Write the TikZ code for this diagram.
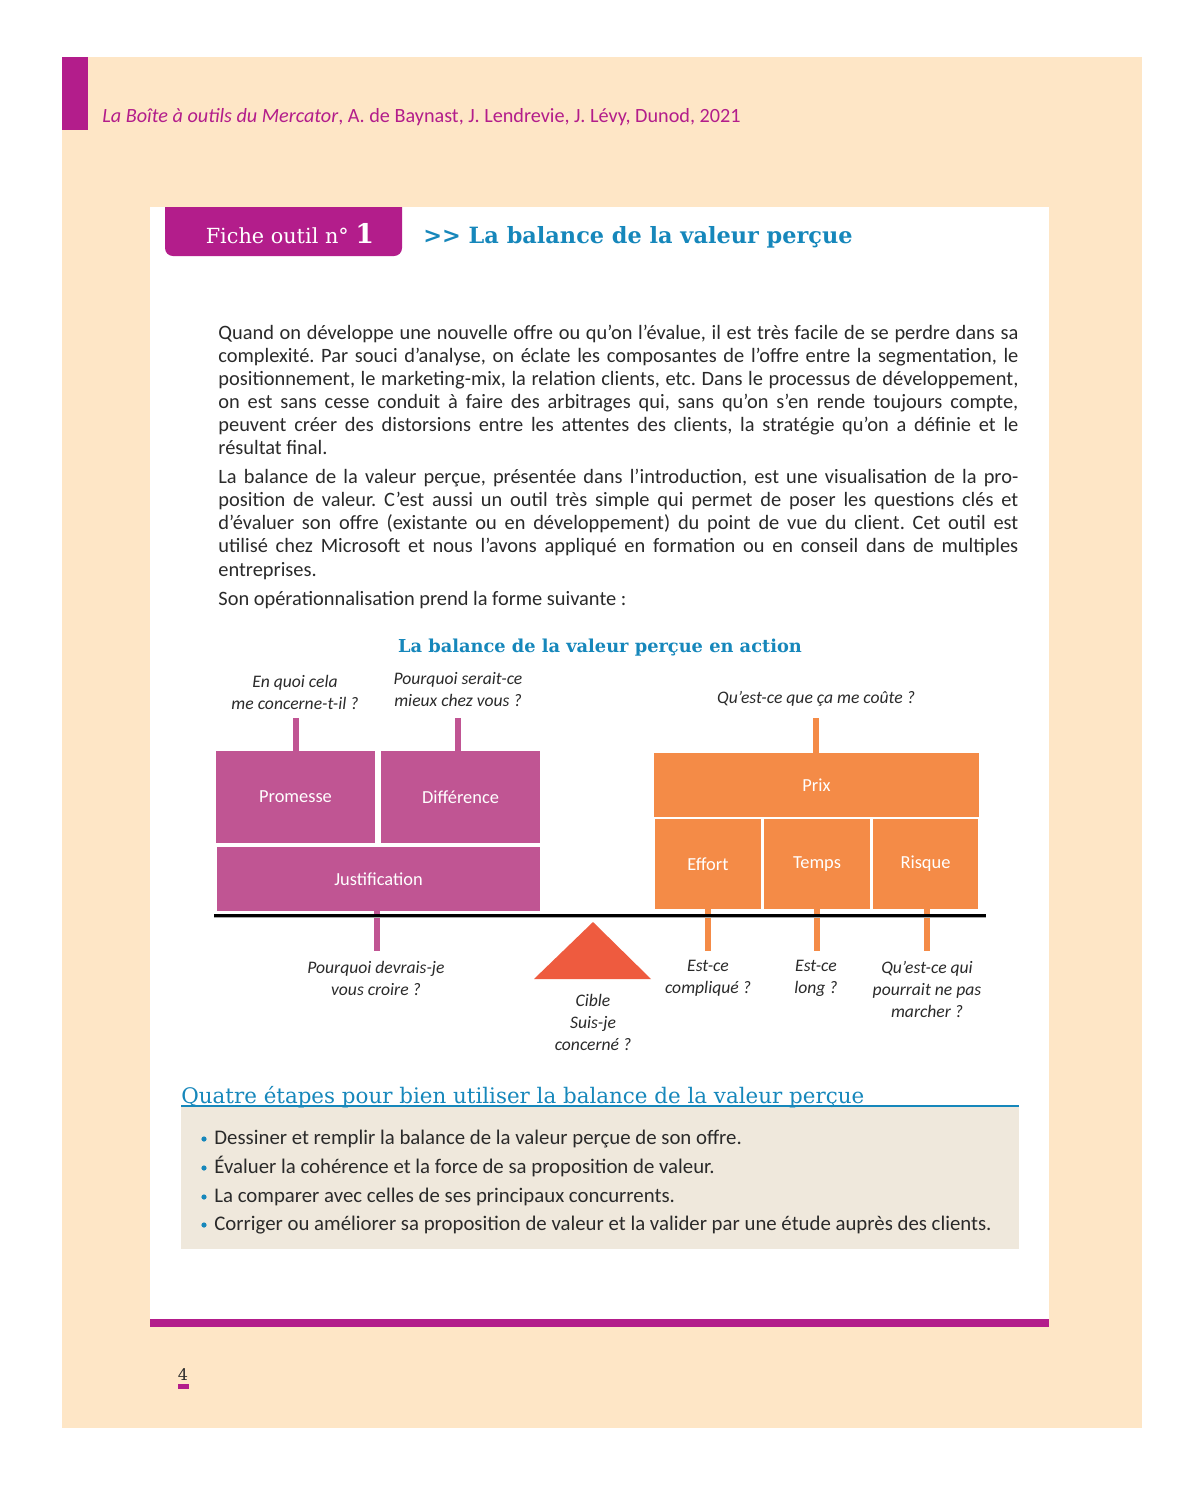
\documentclass[tikz,border=0pt]{standalone}
\usepackage{fontspec}
\setmainfont{Carlito}
\setsansfont{Carlito}
\newfontfamily\slab{DejaVu Serif}
\definecolor{mag}{HTML}{B31D8B}
\definecolor{boxmag}{HTML}{C05593}
\definecolor{org}{HTML}{F48B47}
\definecolor{tri}{HTML}{EE5B3F}
\definecolor{blu}{HTML}{1687BB}
\definecolor{peach}{HTML}{FEE6C6}
\definecolor{beige}{HTML}{EFE8DC}
\definecolor{txt}{HTML}{2A2A2A}
\frenchspacing
\tikzset{
  bodyline/.style={anchor=base west, inner sep=0pt, text=txt, font=\fontsize{10.2}{11.5}\selectfont},
  pbox/.style={fill=boxmag, text=white, inner sep=0pt, font=\fontsize{9.2}{10}\selectfont},
  obox/.style={fill=org, text=white, inner sep=0pt, font=\fontsize{9.2}{10}\selectfont},
  quest/.style={align=center, inner sep=0pt, text=txt, font=\itshape\fontsize{8.8}{11}\selectfont},
  mstem/.style={draw=boxmag, line width=3pt},
  ostem/.style={draw=org, line width=3pt},
  bul/.style={anchor=base west, inner sep=0pt, text=txt, font=\fontsize{10.4}{11}\selectfont}
}
\begin{document}
\begin{tikzpicture}[x=0.5pt,y=-0.5pt]
% page
\fill[white] (0,0) rectangle (1200,1485);
\useasboundingbox (0,0) rectangle (1200,1485);
\fill[peach] (62,57) rectangle (1142,1428);
\fill[white] (150,207) rectangle (1049,1322);
\fill[mag] (150,1319) rectangle (1049,1327);
\fill[mag] (62,57) rectangle (88,130);
% header
\node[anchor=base west, inner sep=0pt, text=mag, font=\fontsize{10.1}{12}\selectfont] (hdr) at (102,122)
  {\textit{La Boîte à outils du Mercator}, A. de Baynast, J. Lendrevie, J. Lévy, Dunod, 2021};
% fiche box
\fill[mag] (165,207) [rounded corners=4pt] -- (165,256) -- (402,256) [sharp corners] -- (402,207) -- cycle;
\node[anchor=base, inner sep=0pt, text=white, font=\slab\fontsize{10.4}{12}\selectfont] (fiche) at (290,243)
  {Fiche outil n° {\fontsize{13.5}{14}\selectfont\bfseries 1}};
\node[anchor=base west, inner sep=0pt, text=blu, font=\slab\bfseries\fontsize{11.2}{14}\selectfont] (title) at (423,243)
  {>{}> La balance de la valeur perçue};
% body text
\node[bodyline] (l1) at (218,339) {\makebox[400pt][s]{Quand on développe une nouvelle offre ou qu’on l’évalue, il est très facile de se perdre dans sa}};
\node[bodyline] (l2) at (218,362) {\makebox[400pt][s]{complexité. Par souci d’analyse, on éclate les composantes de l’offre entre la segmentation, le}};
\node[bodyline] (l3) at (218,385) {\makebox[400pt][s]{positionnement, le marketing-mix, la relation clients, etc. Dans le processus de développement,}};
\node[bodyline] (l4) at (218,408) {\makebox[400pt][s]{on est sans cesse conduit à faire des arbitrages qui, sans qu’on s’en rende toujours compte,}};
\node[bodyline] (l5) at (218,431) {\makebox[400pt][s]{peuvent créer des distorsions entre les attentes des clients, la stratégie qu’on a définie et le}};
\node[bodyline] (l6) at (218,454) {résultat final.};
\node[bodyline] (l7) at (218,483) {\makebox[400pt][s]{La balance de la valeur perçue, présentée dans l’introduction, est une visualisation de la pro-}};
\node[bodyline] (l8) at (218,506) {\makebox[400pt][s]{position de valeur. C’est aussi un outil très simple qui permet de poser les questions clés et}};
\node[bodyline] (l9) at (218,529) {\makebox[400pt][s]{d’évaluer son offre (existante ou en développement) du point de vue du client. Cet outil est}};
\node[bodyline] (l10) at (218,552) {\makebox[400pt][s]{utilisé chez Microsoft et nous l’avons appliqué en formation ou en conseil dans de multiples}};
\node[bodyline] (l11) at (218,576) {entreprises.};
\node[bodyline] (l12) at (218,605) {Son opérationnalisation prend la forme suivante :};
% diagram title
\node[anchor=base, inner sep=0pt, text=blu, font=\slab\bfseries\fontsize{8.9}{11}\selectfont] (dtitle) at (600,652)
  {La balance de la valeur perçue en action};
% questions top
\node[quest] (q1) at (295,692) {En quoi cela\\me concerne-t-il ?};
\node[quest] (q2) at (458,689) {Pourquoi serait-ce\\mieux chez vous ?};
\node[quest] (q3) at (816,699) {Qu’est-ce que ça me coûte ?};
\coordinate (s1) at (296,718);
\coordinate (s2) at (458,718);
\coordinate (s3) at (816,718);
% boxes
\node[pbox, minimum width=79.5pt, minimum height=46pt] (prom) at (295.5,797) {Promesse};
\node[pbox, minimum width=79.5pt, minimum height=46pt] (diff) at (460.5,797) {Différence};
\node[pbox, minimum width=161.5pt, minimum height=32pt] (just) at (378.5,879) {Justification};
\node[obox, minimum width=162.5pt, minimum height=32pt] (prix) at (816.5,785) {Prix};
\node[obox, minimum width=53pt, minimum height=45pt] (eff) at (708,864) {Effort};
\node[obox, minimum width=53pt, minimum height=45pt] (tps) at (817,864) {Temps};
\node[obox, minimum width=52.5pt, minimum height=45pt] (risq) at (925.5,864) {Risque};
% top stems
\draw[mstem] (s1) -- (prom.north -| s1);
\draw[mstem] (s2) -- (diff.north -| s2);
\draw[ostem] (s3) -- (prix.north -| s3);
% bottom stems
\coordinate (b1) at (377,951);
\coordinate (b2) at (708,951);
\coordinate (b3) at (817,951);
\coordinate (b4) at (927,951);
\draw[mstem] (just.south -| b1) -- (b1);
\draw[ostem] (eff.south -| b2) -- (b2);
\draw[ostem] (tps.south -| b3) -- (b3);
\draw[ostem] (risq.south -| b4) -- (b4);
% beam
\coordinate (beamL) at (214,915);
\coordinate (beamR) at (986,915);
\draw[black!35, line width=1pt] ([yshift=-1.2pt]beamL) -- ([yshift=-1.2pt]beamR);
\draw[black, line width=1.5pt] (beamL) -- (beamR);
% fulcrum
\fill[tri] (593,922) -- (651,979) -- (534,979) -- cycle;
% bottom questions
\node[quest] (q4) at (376,978) {Pourquoi devrais-je\\vous croire ?};
\node[quest] (q5) at (593,1022) {Cible\\Suis-je\\concerné ?};
\node[quest] (q6) at (708,978) {Est-ce\\compliqué ?};
\node[quest] (q7) at (816,978) {Est-ce\\long ?};
\node[quest] (q8) at (927,989) {Qu’est-ce qui\\pourrait ne pas\\marcher ?};
% steps box
\fill[beige] (181,1107) rectangle (1019,1249);
\draw[blu, line width=0.7pt] (181,1106) -- (1019,1106);
\node[anchor=base west, inner sep=0pt, text=blu, font=\slab\fontsize{10.7}{12}\selectfont] (steps) at (181,1103)
  {Quatre étapes pour bien utiliser la balance de la valeur perçue};
\foreach \yy/\nm/\tx in {1144/st1/{Dessiner et remplir la balance de la valeur perçue de son offre.},
  1173/st2/{Évaluer la cohérence et la force de sa proposition de valeur.},
  1202/st3/{La comparer avec celles de ses principaux concurrents.},
  1230/st4/{Corriger ou améliorer sa proposition de valeur et la valider par une étude auprès des clients.}}{
  \fill[blu] (204,\yy-5) circle (1.3pt);
  \node[bul] (\nm) at (214,\yy) {\tx};
}
% page number
\node[anchor=base, inner sep=0pt, text=txt, font=\slab\fontsize{8}{9}\selectfont] (pg) at (183,1380) {4};
\fill[mag] (178,1384) rectangle (189,1389);
\end{tikzpicture}
\end{document}
